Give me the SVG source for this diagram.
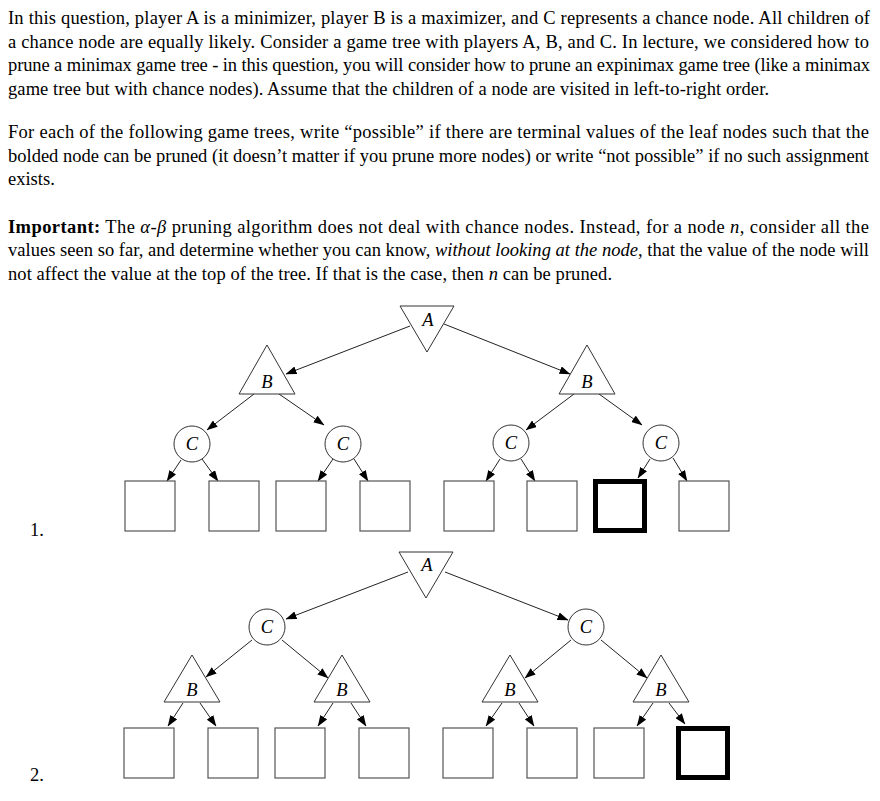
<svg xmlns="http://www.w3.org/2000/svg" width="880" height="801" viewBox="0 0 880 801">
<defs>
<style>
.t{font-family:"Liberation Serif","Times New Roman",serif;font-size:18.5px;fill:#000}
.lbl{font-family:"Liberation Serif","Times New Roman",serif;font-size:18.5px;font-style:italic;fill:#000;text-anchor:middle}
.tri{fill:#fff;stroke:#333;stroke-width:1}
.circ{fill:#fff;stroke:#333;stroke-width:1}
.leaf{fill:#fff;stroke:#555;stroke-width:1.2}
.bold{fill:#fff;stroke:#000;stroke-width:5}
.e{stroke:#222;stroke-width:1;fill:none;marker-end:url(#ah)}
</style>
<marker id="ah" markerUnits="userSpaceOnUse" markerWidth="11" markerHeight="8" refX="10.5" refY="4" orient="auto">
<path d="M0,0 L11,4 L0,8 z" fill="#000"/>
</marker>
</defs>
<rect width="880" height="801" fill="#fff"/>

<g id="text">
<text class="t" x="8" y="24" textLength="862" lengthAdjust="spacing">In this question, player A is a minimizer, player B is a maximizer, and C represents a chance node.  All children of</text>
<text class="t" x="8" y="47.7" textLength="861" lengthAdjust="spacing">a chance node are equally likely.  Consider a game tree with players A, B, and C. In lecture, we considered how to</text>
<text class="t" x="8" y="71.4" textLength="862" lengthAdjust="spacing">prune a minimax game tree - in this question, you will consider how to prune an expinimax game tree (like a minimax</text>
<text class="t" x="8" y="95.1" textLength="761" lengthAdjust="spacing">game tree but with chance nodes).  Assume that the children of a node are visited in left-to-right order.</text>

<text class="t" x="8" y="138" textLength="861" lengthAdjust="spacing">For each of the following game trees, write “possible” if there are terminal values of the leaf nodes such that the</text>
<text class="t" x="8" y="161.5" textLength="861" lengthAdjust="spacing">bolded node can be pruned (it doesn’t matter if you prune more nodes) or write “not possible” if no such assignment</text>
<text class="t" x="8" y="185">exists.</text>

<text class="t" x="8" y="232.5" textLength="861" lengthAdjust="spacing"><tspan font-weight="bold">Important:</tspan> The <tspan font-style="italic">α</tspan>-<tspan font-style="italic">β</tspan> pruning algorithm does not deal with chance nodes.  Instead, for a node <tspan font-style="italic">n</tspan>, consider all the</text>
<text class="t" x="8" y="256" textLength="861" lengthAdjust="spacing">values seen so far, and determine whether you can know, <tspan font-style="italic">without looking at the node</tspan>, that the value of the node will</text>
<text class="t" x="8" y="279.5" textLength="604" lengthAdjust="spacing">not affect the value at the top of the tree. If that is the case, then <tspan font-style="italic">n</tspan> can be pruned.</text>

<text class="t" x="30" y="536">1.</text>
<text class="t" x="30" y="781">2.</text>
</g>

<g id="connectors">
<!-- tree 1 -->
<line class="e" x1="410" y1="326" x2="286" y2="374"/>
<line class="e" x1="444" y1="324" x2="570" y2="374"/>
<line class="e" x1="254" y1="394" x2="207" y2="430"/>
<line class="e" x1="279" y1="394" x2="324" y2="425"/>
<line class="e" x1="574" y1="394" x2="526" y2="430"/>
<line class="e" x1="599" y1="394" x2="642" y2="425"/>
<line class="e" x1="181" y1="460" x2="167" y2="481"/>
<line class="e" x1="202" y1="459" x2="218" y2="481"/>
<line class="e" x1="333" y1="459" x2="318" y2="481"/>
<line class="e" x1="354" y1="459" x2="368" y2="481"/>
<line class="e" x1="500" y1="459" x2="486" y2="481"/>
<line class="e" x1="521" y1="459" x2="535" y2="481"/>
<line class="e" x1="650" y1="459" x2="638" y2="478"/>
<line class="e" x1="673" y1="458" x2="687" y2="481"/>
<!-- tree 2 -->
<line class="e" x1="408" y1="572" x2="286" y2="619"/>
<line class="e" x1="445" y1="572" x2="568" y2="620"/>
<line class="e" x1="252" y1="640" x2="206" y2="677"/>
<line class="e" x1="282" y1="640" x2="328" y2="678"/>
<line class="e" x1="571" y1="640" x2="525" y2="678"/>
<line class="e" x1="601" y1="640" x2="647" y2="678"/>
<line class="e" x1="183" y1="703" x2="168" y2="726"/>
<line class="e" x1="200" y1="703" x2="216" y2="726"/>
<line class="e" x1="333" y1="703" x2="318" y2="726"/>
<line class="e" x1="351" y1="703" x2="366" y2="726"/>
<line class="e" x1="502" y1="703" x2="486" y2="726"/>
<line class="e" x1="519" y1="703" x2="534" y2="726"/>
<line class="e" x1="653" y1="703" x2="637" y2="726"/>
<line class="e" x1="669" y1="703" x2="685" y2="724"/>
</g>

<!-- tree 1 nodes -->
<g id="t1-A"><polygon class="tri" points="400,306 454,306 427,352"/><text class="lbl" x="428" y="326">A</text></g>
<g id="t1-B1"><polygon class="tri" points="267,345 239,394 295,394"/><text class="lbl" x="267" y="388">B</text></g>
<g id="t1-B2"><polygon class="tri" points="587,345 559,394 615,394"/><text class="lbl" x="587" y="388">B</text></g>
<g id="t1-C1"><circle class="circ" cx="192" cy="444" r="18"/><text class="lbl" x="192" y="450">C</text></g>
<g id="t1-C2"><circle class="circ" cx="343" cy="444" r="18"/><text class="lbl" x="343" y="450">C</text></g>
<g id="t1-C3"><circle class="circ" cx="511" cy="443" r="18"/><text class="lbl" x="511" y="449">C</text></g>
<g id="t1-C4"><circle class="circ" cx="661" cy="443" r="18"/><text class="lbl" x="661" y="449">C</text></g>
<g id="t1-L1"><rect class="leaf" x="125" y="481" width="50" height="50"/></g>
<g id="t1-L2"><rect class="leaf" x="209" y="481" width="50" height="50"/></g>
<g id="t1-L3"><rect class="leaf" x="276" y="481" width="50" height="50"/></g>
<g id="t1-L4"><rect class="leaf" x="360" y="481" width="50" height="50"/></g>
<g id="t1-L5"><rect class="leaf" x="444" y="481" width="50" height="50"/></g>
<g id="t1-L6"><rect class="leaf" x="527" y="481" width="50" height="50"/></g>
<g id="t1-L7"><rect class="bold" x="595.5" y="481.5" width="49" height="49"/></g>
<g id="t1-L8"><rect class="leaf" x="679" y="481" width="50" height="50"/></g>

<!-- tree 2 nodes -->
<g id="t2-A"><polygon class="tri" points="399,552 453,552 426,598"/><text class="lbl" x="427" y="571">A</text></g>
<g id="t2-C1"><circle class="circ" cx="267" cy="627" r="18"/><text class="lbl" x="267" y="633">C</text></g>
<g id="t2-C2"><circle class="circ" cx="586" cy="627" r="18"/><text class="lbl" x="586" y="633">C</text></g>
<g id="t2-B1"><polygon class="tri" points="192,655 164,702 220,702"/><text class="lbl" x="192" y="696">B</text></g>
<g id="t2-B2"><polygon class="tri" points="342,655 314,702 370,702"/><text class="lbl" x="342" y="696">B</text></g>
<g id="t2-B3"><polygon class="tri" points="510,655 482,702 538,702"/><text class="lbl" x="510" y="696">B</text></g>
<g id="t2-B4"><polygon class="tri" points="661,655 633,702 689,702"/><text class="lbl" x="661" y="696">B</text></g>
<g id="t2-L1"><rect class="leaf" x="124" y="728" width="50" height="50"/></g>
<g id="t2-L2"><rect class="leaf" x="208" y="728" width="50" height="50"/></g>
<g id="t2-L3"><rect class="leaf" x="275" y="728" width="50" height="50"/></g>
<g id="t2-L4"><rect class="leaf" x="359" y="728" width="50" height="50"/></g>
<g id="t2-L5"><rect class="leaf" x="443" y="728" width="50" height="50"/></g>
<g id="t2-L6"><rect class="leaf" x="527" y="728" width="50" height="50"/></g>
<g id="t2-L7"><rect class="leaf" x="594" y="728" width="50" height="50"/></g>
<g id="t2-L8"><rect class="bold" x="678.5" y="728.5" width="49" height="49"/></g>
</svg>
